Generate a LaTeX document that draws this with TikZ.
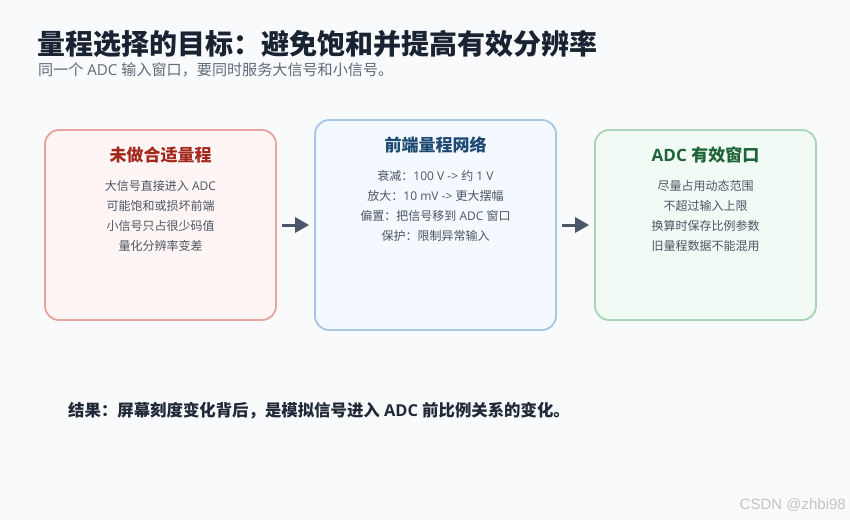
\documentclass[tikz,border=0pt]{standalone}
\usepackage{fontspec}
\setmainfont{Noto Sans CJK SC}
\newfontfamily\wmfont{Liberation Sans}
\newfontfamily\lat{Open Sans}
\usetikzlibrary{arrows.meta}
\definecolor{bgc}{HTML}{F8FAFC}
\definecolor{titlec}{HTML}{1A2332}
\definecolor{subc}{HTML}{5F6B78}
\definecolor{bodyc}{HTML}{4B5563}
\definecolor{redb}{HTML}{E8A49C}
\definecolor{redf}{HTML}{FFF5F4}
\definecolor{redt}{HTML}{A3281C}
\definecolor{blueb}{HTML}{A6C6E6}
\definecolor{bluef}{HTML}{F4F9FF}
\definecolor{bluet}{HTML}{1D4A72}
\definecolor{greenb}{HTML}{A8D5B6}
\definecolor{greenf}{HTML}{F2FAF5}
\definecolor{greent}{HTML}{1D6437}
\definecolor{arrc}{HTML}{4A5568}
\definecolor{resc}{HTML}{1F2937}
\definecolor{wmc}{HTML}{C4C4C4}
\tikzset{
  card/.style={draw, line width=1.8pt, rounded corners=14pt, inner sep=0pt},
  cardtitle/.style={font=\fontsize{17}{20}\selectfont\bfseries, anchor=center, inner sep=0pt},
  cardbody/.style={font=\fontsize{12}{14}\selectfont, text=bodyc, anchor=center, inner sep=0pt},
  flow/.style={draw=arrc, line width=3pt, -{Triangle[length=14pt,width=15pt]}, shorten <=5pt, shorten >=5pt}
}
\begin{document}
\begin{tikzpicture}[x=1pt,y=-1pt]
\fill[bgc] (0,0) rectangle (850,520);
\useasboundingbox (0,0) rectangle (850,520);

\node[anchor=west, inner sep=0pt, text=titlec, font=\fontsize{28}{32}\selectfont\bfseries] (title) at (37,44) {量程选择的目标：避免饱和并提高有效分辨率};
\node[anchor=west, inner sep=0pt, text=subc, font=\fontsize{15.1}{17}\selectfont] (sub) at (38,70) {同一个{\lat\ ADC\ }输入窗口，要同时服务大信号和小信号。};

\node[card, draw=redb, fill=redf, minimum width=231pt, minimum height=190pt] (b1) at (160.5,225) {};
\node[card, draw=blueb, fill=bluef, minimum width=241pt, minimum height=210pt] (b2) at (435.5,225) {};
\node[card, draw=greenb, fill=greenf, minimum width=221pt, minimum height=190pt] (b3) at (705.5,225) {};

\node[cardtitle, text=redt] (t1) at (160.5,155) {未做合适量程};
\node[cardbody] (l11) at (160.5,186) {大信号直接进入{\lat\ ADC}};
\node[cardbody] (l12) at (160.5,206) {可能饱和或损坏前端};
\node[cardbody] (l13) at (160.5,226) {小信号只占很少码值};
\node[cardbody] (l14) at (160.5,246) {量化分辨率变差};

\node[cardtitle, text=bluet] (t2) at (435.5,145) {前端量程网络};
\node[cardbody] (l21) at (435.5,176) {衰减：{\lat 100 V -> }约{\lat\ 1 V}};
\node[cardbody] (l22) at (435.5,196) {放大：{\lat 10 mV -> }更大摆幅};
\node[cardbody] (l23) at (435.5,216) {偏置：把信号移到{\lat\ ADC\ }窗口};
\node[cardbody] (l24) at (435.5,236) {保护：限制异常输入};

\node[cardtitle, text=greent] (t3) at (705.5,155) {{\lat ADC\ }有效窗口};
\node[cardbody] (l31) at (705.5,186) {尽量占用动态范围};
\node[cardbody] (l32) at (705.5,206) {不超过输入上限};
\node[cardbody] (l33) at (705.5,226) {换算时保存比例参数};
\node[cardbody] (l34) at (705.5,246) {旧量程数据不能混用};

\draw[flow] (b1) -- (b2);
\draw[flow] (b2) -- (b3);

\node[anchor=west, inner sep=0pt, text=resc, font=\fontsize{16.4}{18}\selectfont\bfseries] (res) at (68,411) {结果：屏幕刻度变化背后，是模拟信号进入{\lat\ ADC\ }前比例关系的变化。};

\node[anchor=east, inner sep=0pt, text=wmc, font=\wmfont\fontsize{15}{17}\selectfont] (wm) at (846,505) {CSDN @zhbi98};
\end{tikzpicture}
\end{document}
